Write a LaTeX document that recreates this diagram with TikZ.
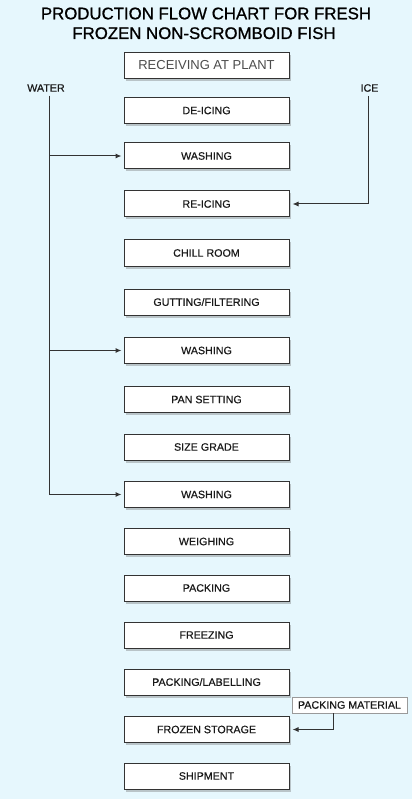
\documentclass[tikz,border=0pt]{standalone}
\usepackage{fontspec}
\setmainfont{Liberation Sans}
\newfontfamily\titlefont[FakeBold=0.9]{Liberation Sans}
\newfontfamily\boxfont[FakeBold=0.4]{Liberation Sans}
\usetikzlibrary{arrows.meta}
\usetikzlibrary{shadows}
\definecolor{bgcol}{HTML}{E6F7FD}
\definecolor{boxline}{HTML}{333333}
\definecolor{pmline}{HTML}{9A9A9A}
\begin{document}
\begin{tikzpicture}[x=1pt,y=-1pt,every node/.style={font=\boxfont\fontsize{10.7}{12}\selectfont,text=black!90},
    stepbox/.style={draw=boxline,fill=white,line width=1pt,minimum width=165pt,minimum height=26pt,inner sep=0pt,
        drop shadow={shadow xshift=2pt,shadow yshift=-2.5pt,opacity=.35,fill=black!60}},
    flow/.style={draw=boxline,line width=1pt,-{Latex[length=6pt,width=5pt]}}]
    \fill[bgcol] (0,0) rectangle (412,799);
    \useasboundingbox (0,0) rectangle (412,799);
    %title
    \node[anchor=base,font=\titlefont\fontsize{16.8}{20}\selectfont,text=black] (title1) at (206,19.3) {PRODUCTION FLOW CHART FOR FRESH};
    \node[anchor=base,font=\titlefont\fontsize{16.8}{20}\selectfont,text=black] (title2) at (204,39) {FROZEN NON-SCROMBOID FISH};
    %steps
    \node[stepbox,font=\fontsize{13}{15}\selectfont,text=black!70] (recv) at (206.5,65.5) {RECEIVING AT PLANT};
    \node[stepbox] (deice) at (206.5,110.5) {DE-ICING};
    \node[stepbox] (wash1) at (206.5,156) {WASHING};
    \node[stepbox] (reice) at (206.5,204) {RE-ICING};
    \node[stepbox] (chill) at (206.5,253) {CHILL ROOM};
    \node[stepbox] (gut) at (206.5,302) {GUTTING/FILTERING};
    \node[stepbox] (wash2) at (206.5,350.5) {WASHING};
    \node[stepbox] (pan) at (206.5,399.5) {PAN SETTING};
    \node[stepbox] (size) at (206.5,447) {SIZE GRADE};
    \node[stepbox] (wash3) at (206.5,494.5) {WASHING};
    \node[stepbox] (weigh) at (206.5,541.5) {WEIGHING};
    \node[stepbox] (pack) at (206.5,588) {PACKING};
    \node[stepbox] (freeze) at (206.5,635) {FREEZING};
    \node[stepbox] (label) at (206.5,682) {PACKING/LABELLING};
    \node[stepbox] (store) at (206.5,729.5) {FROZEN STORAGE};
    \node[stepbox] (ship) at (206.5,776) {SHIPMENT};
    %inputs
    \node (water) at (46,88) {WATER};
    \node (ice) at (369.5,88) {ICE};
    \node[draw=pmline,fill=white,line width=.8pt,minimum width=115pt,minimum height=16pt,inner sep=0pt] (pm) at (349.5,705) {PACKING MATERIAL};
    \coordinate (wtop) at (49,96);
    \coordinate (itop) at (368.5,96);
    \draw[flow,shorten >=2pt] (wtop) |- (wash1);
    \draw[flow,shorten >=2pt] (wtop) |- (wash2);
    \draw[flow,shorten >=2pt] (wtop) |- (wash3);
    \draw[flow,shorten >=3pt] (itop) |- (reice);
    \draw[flow,shorten >=3pt] ([xshift=-16.5pt]pm.south) |- (store);
\end{tikzpicture}
\end{document}
